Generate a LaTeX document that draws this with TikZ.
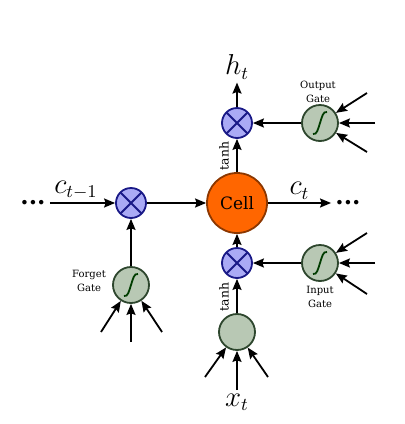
\documentclass[tikz,border=0pt]{standalone}
\usepackage{fontspec}
\setmainfont{DejaVu Serif}
\usetikzlibrary{arrows.meta}

\definecolor{mulfill}{RGB}{170,170,245}
\definecolor{muldraw}{RGB}{25,25,135}
\definecolor{gatefill}{RGB}{184,200,180}
\definecolor{gatedraw}{RGB}{45,70,45}
\definecolor{sigcol}{RGB}{0,60,0}
\definecolor{cellfill}{RGB}{255,102,0}
\definecolor{celldraw}{RGB}{140,55,0}

\tikzset{
  conn/.style={line width=0.9pt,-{Stealth[length=5.5pt,width=4.5pt,inset=0.8pt]}},
  mult/.style={circle,draw=muldraw,fill=mulfill,line width=0.9pt,minimum size=15pt,inner sep=0pt,
    path picture={\draw[muldraw,line width=0.9pt] (path picture bounding box.north west) -- (path picture bounding box.south east)
      (path picture bounding box.north east) -- (path picture bounding box.south west);}},
  gate/.style={circle,draw=gatedraw,fill=gatefill,line width=0.9pt,minimum size=18pt,inner sep=0pt},
  sigm/.style={gate,path picture={\draw[sigcol,line width=0.9pt,shift={(path picture bounding box.center)}]
      (-3.5pt,-5.5pt) .. controls (-1.5pt,-6pt) and (-1pt,-3pt) .. (0pt,0pt)
      .. controls (1pt,3pt) and (1.5pt,6pt) .. (3.5pt,5.5pt);}},
  cellnode/.style={circle,draw=celldraw,fill=cellfill,line width=0.9pt,minimum size=30pt,inner sep=0pt,
    font=\fontsize{8.5}{10}\selectfont},
  gatelbl/.style={align=center,font=\fontsize{5}{6.8}\selectfont},
  tanhlbl/.style={rotate=90,font=\fontsize{6.2}{7}\selectfont},
  var/.style={font=\fontsize{13.5}{15}\selectfont,inner sep=1.5pt},
  dots/.style={font=\large\bfseries,text height=1.6pt,text depth=0pt,inner sep=2pt}
}

\begin{document}
\begin{tikzpicture}[x=0.5pt,y=-0.5pt]
\useasboundingbox (0,0) rectangle (404,424);

%cells and gates
\node[mult] (mulf) at (131,203) {};
\node[mult] (mulo) at (237,123) {};
\node[mult] (muli) at (237,263) {};
\node[cellnode] (cell) at (237,203) {Cell};
\node[sigm] (gateo) at (320,123) {};
\node[sigm] (gatei) at (320,263) {};
\node[sigm] (gatef) at (131,285) {};
\node[gate] (inp) at (237,332) {};

%labels
\node[gatelbl] (lblo) at (318,92) {Output\\Gate};
\node[gatelbl] (lbli) at (320,297) {Input\\Gate};
\node[gatelbl] (lblf) at (89,281) {Forget\\Gate};
\node[tanhlbl] (tanho) at (224,156) {tanh};
\node[tanhlbl] (tanhi) at (224,297) {tanh};
\node[var] (ht) at (237,67) {$h_t$};
\node[var] (xt) at (237,402) {$x_t$};
\node[dots] (dotsl) at (33,203) {...};
\node[dots] (dotsr) at (348,203) {...};

%loose ends
\coordinate (o1) at (367,93);
\coordinate (o2) at (375,123);
\coordinate (o3) at (367,152);
\coordinate (i1) at (367,233);
\coordinate (i2) at (375,263);
\coordinate (i3) at (367,294);
\coordinate (f1) at (101,332);
\coordinate (f2) at (131,342);
\coordinate (f3) at (162,332);
\coordinate (x1) at (205,377);
\coordinate (x3) at (268,377);

%connections
\draw[conn] (dotsl) -- node[var,above=0pt,pos=0.4] {$c_{t-1}$} (mulf);
\draw[conn] (mulf) -- (cell);
\draw[conn] (cell) -- node[var,above=0pt] {$c_t$} (dotsr);
\draw[conn] (gatef) -- (mulf);
\draw[conn] (cell) -- (mulo);
\draw[conn] (mulo) -- (ht);
\draw[conn] (gateo) -- (mulo);
\draw[conn] (muli) -- (cell);
\draw[conn] (gatei) -- (muli);
\draw[conn] (inp) -- (muli);
\draw[conn] (xt) -- (inp);
\foreach \p in {o1,o2,o3} \draw[conn] (\p) -- (gateo);
\foreach \p in {i1,i2,i3} \draw[conn] (\p) -- (gatei);
\foreach \p in {f1,f2,f3} \draw[conn] (\p) -- (gatef);
\foreach \p in {x1,x3} \draw[conn] (\p) -- (inp);

\end{tikzpicture}
\end{document}
